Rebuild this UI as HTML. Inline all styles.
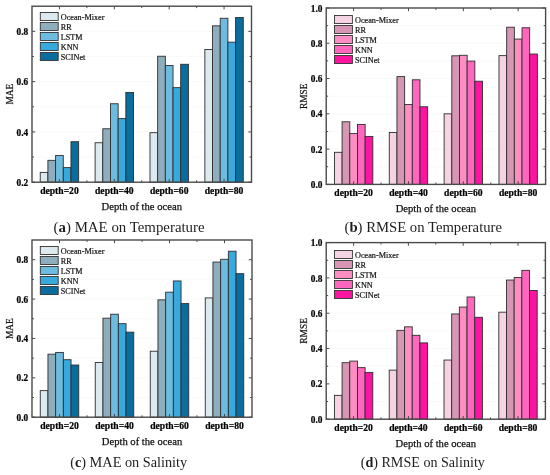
<!DOCTYPE html>
<html><head><meta charset="utf-8"><style>
html,body{margin:0;padding:0;background:#fff;}
svg{display:block;will-change:transform;}
text{font-family:"Liberation Serif",serif;fill:#000;}
.tl{font-size:9.3px;font-weight:bold;text-anchor:end;stroke:#000;stroke-width:0.22px;}
.xl{font-size:9.6px;font-weight:bold;text-anchor:middle;stroke:#000;stroke-width:0.22px;}
.lg{font-size:8.2px;fill:#111;stroke:#111;stroke-width:0.2px;}
.yl{font-size:9.4px;text-anchor:middle;fill:#111;stroke:#111;stroke-width:0.2px;}
.xa{font-size:11px;fill:#111;stroke:#111;stroke-width:0.25px;}
.cap{font-size:15px;fill:#1e1e1e;}
</style></head><body>
<svg width="550" height="475" viewBox="0 0 550 475">
<rect width="550" height="475" fill="#fff"/>
<line x1="32" y1="131.91" x2="251.5" y2="131.91" stroke="#f7f7f7" stroke-width="0.8"/>
<line x1="32" y1="81.63" x2="251.5" y2="81.63" stroke="#f7f7f7" stroke-width="0.8"/>
<line x1="32" y1="31.34" x2="251.5" y2="31.34" stroke="#f7f7f7" stroke-width="0.8"/>
<line x1="32" y1="157.06" x2="251.5" y2="157.06" stroke="#f7f7f7" stroke-width="0.8"/>
<line x1="32" y1="106.77" x2="251.5" y2="106.77" stroke="#f7f7f7" stroke-width="0.8"/>
<line x1="32" y1="56.49" x2="251.5" y2="56.49" stroke="#f7f7f7" stroke-width="0.8"/>
<rect x="40.23" y="172.39" width="7.68" height="9.81" fill="#dce9ef" stroke="#2e2e2e" stroke-width="0.9"/>
<rect x="47.91" y="160.33" width="7.68" height="21.87" fill="#8eaebe" stroke="#2e2e2e" stroke-width="0.9"/>
<rect x="55.60" y="155.55" width="7.68" height="26.65" fill="#6dbce0" stroke="#2e2e2e" stroke-width="0.9"/>
<rect x="63.28" y="167.62" width="7.68" height="14.58" fill="#38a9dc" stroke="#2e2e2e" stroke-width="0.9"/>
<rect x="70.96" y="141.72" width="7.68" height="40.48" fill="#0b6c9e" stroke="#2e2e2e" stroke-width="0.9"/>
<rect x="95.11" y="142.73" width="7.68" height="39.47" fill="#dce9ef" stroke="#2e2e2e" stroke-width="0.9"/>
<rect x="102.79" y="128.77" width="7.68" height="53.43" fill="#8eaebe" stroke="#2e2e2e" stroke-width="0.9"/>
<rect x="110.47" y="103.75" width="7.68" height="78.45" fill="#6dbce0" stroke="#2e2e2e" stroke-width="0.9"/>
<rect x="118.15" y="118.59" width="7.68" height="63.61" fill="#38a9dc" stroke="#2e2e2e" stroke-width="0.9"/>
<rect x="125.84" y="92.44" width="7.68" height="89.76" fill="#0b6c9e" stroke="#2e2e2e" stroke-width="0.9"/>
<rect x="149.98" y="132.67" width="7.68" height="49.53" fill="#dce9ef" stroke="#2e2e2e" stroke-width="0.9"/>
<rect x="157.66" y="56.23" width="7.68" height="125.97" fill="#8eaebe" stroke="#2e2e2e" stroke-width="0.9"/>
<rect x="165.35" y="65.54" width="7.68" height="116.66" fill="#6dbce0" stroke="#2e2e2e" stroke-width="0.9"/>
<rect x="173.03" y="87.66" width="7.68" height="94.54" fill="#38a9dc" stroke="#2e2e2e" stroke-width="0.9"/>
<rect x="180.71" y="64.28" width="7.68" height="117.92" fill="#0b6c9e" stroke="#2e2e2e" stroke-width="0.9"/>
<rect x="204.86" y="49.45" width="7.68" height="132.75" fill="#dce9ef" stroke="#2e2e2e" stroke-width="0.9"/>
<rect x="212.54" y="25.81" width="7.68" height="156.39" fill="#8eaebe" stroke="#2e2e2e" stroke-width="0.9"/>
<rect x="220.22" y="18.27" width="7.68" height="163.93" fill="#6dbce0" stroke="#2e2e2e" stroke-width="0.9"/>
<rect x="227.90" y="42.15" width="7.68" height="140.05" fill="#38a9dc" stroke="#2e2e2e" stroke-width="0.9"/>
<rect x="235.59" y="17.51" width="7.68" height="164.69" fill="#0b6c9e" stroke="#2e2e2e" stroke-width="0.9"/>
<rect x="32" y="6.2" width="219.50" height="176.00" fill="none" stroke="#4a4a4a" stroke-width="1.4"/>
<line x1="32" y1="182.20" x2="35.2" y2="182.20" stroke="#4a4a4a" stroke-width="1"/>
<line x1="251.5" y1="182.20" x2="248.3" y2="182.20" stroke="#4a4a4a" stroke-width="1"/>
<text x="28.2" y="185.80" class="tl">0.2</text>
<line x1="32" y1="131.91" x2="35.2" y2="131.91" stroke="#4a4a4a" stroke-width="1"/>
<line x1="251.5" y1="131.91" x2="248.3" y2="131.91" stroke="#4a4a4a" stroke-width="1"/>
<text x="28.2" y="135.51" class="tl">0.4</text>
<line x1="32" y1="81.63" x2="35.2" y2="81.63" stroke="#4a4a4a" stroke-width="1"/>
<line x1="251.5" y1="81.63" x2="248.3" y2="81.63" stroke="#4a4a4a" stroke-width="1"/>
<text x="28.2" y="85.23" class="tl">0.6</text>
<line x1="32" y1="31.34" x2="35.2" y2="31.34" stroke="#4a4a4a" stroke-width="1"/>
<line x1="251.5" y1="31.34" x2="248.3" y2="31.34" stroke="#4a4a4a" stroke-width="1"/>
<text x="28.2" y="34.94" class="tl">0.8</text>
<line x1="32" y1="157.06" x2="33.9" y2="157.06" stroke="#4a4a4a" stroke-width="1"/>
<line x1="251.5" y1="157.06" x2="249.6" y2="157.06" stroke="#4a4a4a" stroke-width="1"/>
<line x1="32" y1="106.77" x2="33.9" y2="106.77" stroke="#4a4a4a" stroke-width="1"/>
<line x1="251.5" y1="106.77" x2="249.6" y2="106.77" stroke="#4a4a4a" stroke-width="1"/>
<line x1="32" y1="56.49" x2="33.9" y2="56.49" stroke="#4a4a4a" stroke-width="1"/>
<line x1="251.5" y1="56.49" x2="249.6" y2="56.49" stroke="#4a4a4a" stroke-width="1"/>
<line x1="59.44" y1="182.2" x2="59.44" y2="179.0" stroke="#4a4a4a" stroke-width="1"/>
<line x1="59.44" y1="6.2" x2="59.44" y2="9.4" stroke="#4a4a4a" stroke-width="1"/>
<text x="59.44" y="193.70" class="xl">depth=20</text>
<line x1="114.31" y1="182.2" x2="114.31" y2="179.0" stroke="#4a4a4a" stroke-width="1"/>
<line x1="114.31" y1="6.2" x2="114.31" y2="9.4" stroke="#4a4a4a" stroke-width="1"/>
<text x="114.31" y="193.70" class="xl">depth=40</text>
<line x1="169.19" y1="182.2" x2="169.19" y2="179.0" stroke="#4a4a4a" stroke-width="1"/>
<line x1="169.19" y1="6.2" x2="169.19" y2="9.4" stroke="#4a4a4a" stroke-width="1"/>
<text x="169.19" y="193.70" class="xl">depth=60</text>
<line x1="224.06" y1="182.2" x2="224.06" y2="179.0" stroke="#4a4a4a" stroke-width="1"/>
<line x1="224.06" y1="6.2" x2="224.06" y2="9.4" stroke="#4a4a4a" stroke-width="1"/>
<text x="224.06" y="193.70" class="xl">depth=80</text>
<line x1="86.88" y1="182.2" x2="86.88" y2="180.29999999999998" stroke="#4a4a4a" stroke-width="1"/>
<line x1="86.88" y1="6.2" x2="86.88" y2="8.1" stroke="#4a4a4a" stroke-width="1"/>
<line x1="141.75" y1="182.2" x2="141.75" y2="180.29999999999998" stroke="#4a4a4a" stroke-width="1"/>
<line x1="141.75" y1="6.2" x2="141.75" y2="8.1" stroke="#4a4a4a" stroke-width="1"/>
<line x1="196.62" y1="182.2" x2="196.62" y2="180.29999999999998" stroke="#4a4a4a" stroke-width="1"/>
<line x1="196.62" y1="6.2" x2="196.62" y2="8.1" stroke="#4a4a4a" stroke-width="1"/>
<rect x="40.30" y="12.50" width="17.9" height="8" fill="#dce9ef" stroke="#333" stroke-width="0.9"/>
<text x="60.80" y="19.60" class="lg">Ocean-Mixer</text>
<rect x="40.30" y="22.50" width="17.9" height="8" fill="#8eaebe" stroke="#333" stroke-width="0.9"/>
<text x="60.80" y="29.60" class="lg">RR</text>
<rect x="40.30" y="32.50" width="17.9" height="8" fill="#6dbce0" stroke="#333" stroke-width="0.9"/>
<text x="60.80" y="39.60" class="lg">LSTM</text>
<rect x="40.30" y="42.50" width="17.9" height="8" fill="#38a9dc" stroke="#333" stroke-width="0.9"/>
<text x="60.80" y="49.60" class="lg">KNN</text>
<rect x="40.30" y="52.50" width="17.9" height="8" fill="#0b6c9e" stroke="#333" stroke-width="0.9"/>
<text x="60.80" y="59.60" class="lg">SCINet</text>
<text transform="translate(12.700000000000001,94.20) rotate(-90)" class="yl">MAE</text>
<text x="101.55" y="209.60" class="xa" textLength="80.4" lengthAdjust="spacingAndGlyphs">Depth of the ocean</text>
<text x="53.6" y="231.6" class="cap" textLength="151" lengthAdjust="spacingAndGlyphs">(<tspan font-weight="bold">a</tspan>) MAE on Temperature</text>
<line x1="326.2" y1="149.12" x2="545.6" y2="149.12" stroke="#f7f7f7" stroke-width="0.8"/>
<line x1="326.2" y1="113.84" x2="545.6" y2="113.84" stroke="#f7f7f7" stroke-width="0.8"/>
<line x1="326.2" y1="78.56" x2="545.6" y2="78.56" stroke="#f7f7f7" stroke-width="0.8"/>
<line x1="326.2" y1="43.28" x2="545.6" y2="43.28" stroke="#f7f7f7" stroke-width="0.8"/>
<line x1="326.2" y1="166.76" x2="545.6" y2="166.76" stroke="#f7f7f7" stroke-width="0.8"/>
<line x1="326.2" y1="131.48" x2="545.6" y2="131.48" stroke="#f7f7f7" stroke-width="0.8"/>
<line x1="326.2" y1="96.20" x2="545.6" y2="96.20" stroke="#f7f7f7" stroke-width="0.8"/>
<line x1="326.2" y1="60.92" x2="545.6" y2="60.92" stroke="#f7f7f7" stroke-width="0.8"/>
<line x1="326.2" y1="25.64" x2="545.6" y2="25.64" stroke="#f7f7f7" stroke-width="0.8"/>
<rect x="334.43" y="152.30" width="7.68" height="32.10" fill="#f6d3e3" stroke="#2e2e2e" stroke-width="0.9"/>
<rect x="342.11" y="121.78" width="7.68" height="62.62" fill="#d797b4" stroke="#2e2e2e" stroke-width="0.9"/>
<rect x="349.79" y="133.42" width="7.68" height="50.98" fill="#fd8ec3" stroke="#2e2e2e" stroke-width="0.9"/>
<rect x="357.46" y="124.42" width="7.68" height="59.98" fill="#ff66bd" stroke="#2e2e2e" stroke-width="0.9"/>
<rect x="365.14" y="136.42" width="7.68" height="47.98" fill="#fb14a0" stroke="#2e2e2e" stroke-width="0.9"/>
<rect x="389.28" y="132.54" width="7.68" height="51.86" fill="#f6d3e3" stroke="#2e2e2e" stroke-width="0.9"/>
<rect x="396.96" y="76.62" width="7.68" height="107.78" fill="#d797b4" stroke="#2e2e2e" stroke-width="0.9"/>
<rect x="404.64" y="104.49" width="7.68" height="79.91" fill="#fd8ec3" stroke="#2e2e2e" stroke-width="0.9"/>
<rect x="412.31" y="79.79" width="7.68" height="104.61" fill="#ff66bd" stroke="#2e2e2e" stroke-width="0.9"/>
<rect x="419.99" y="106.78" width="7.68" height="77.62" fill="#fb14a0" stroke="#2e2e2e" stroke-width="0.9"/>
<rect x="444.13" y="113.84" width="7.68" height="70.56" fill="#f6d3e3" stroke="#2e2e2e" stroke-width="0.9"/>
<rect x="451.81" y="55.80" width="7.68" height="128.60" fill="#d797b4" stroke="#2e2e2e" stroke-width="0.9"/>
<rect x="459.49" y="55.28" width="7.68" height="129.12" fill="#fd8ec3" stroke="#2e2e2e" stroke-width="0.9"/>
<rect x="467.16" y="61.10" width="7.68" height="123.30" fill="#ff66bd" stroke="#2e2e2e" stroke-width="0.9"/>
<rect x="474.84" y="81.21" width="7.68" height="103.19" fill="#fb14a0" stroke="#2e2e2e" stroke-width="0.9"/>
<rect x="498.98" y="55.63" width="7.68" height="128.77" fill="#f6d3e3" stroke="#2e2e2e" stroke-width="0.9"/>
<rect x="506.66" y="27.23" width="7.68" height="157.17" fill="#d797b4" stroke="#2e2e2e" stroke-width="0.9"/>
<rect x="514.34" y="39.05" width="7.68" height="145.35" fill="#fd8ec3" stroke="#2e2e2e" stroke-width="0.9"/>
<rect x="522.01" y="27.76" width="7.68" height="156.64" fill="#ff66bd" stroke="#2e2e2e" stroke-width="0.9"/>
<rect x="529.69" y="54.04" width="7.68" height="130.36" fill="#fb14a0" stroke="#2e2e2e" stroke-width="0.9"/>
<rect x="326.2" y="8.0" width="219.40" height="176.40" fill="none" stroke="#4a4a4a" stroke-width="1.4"/>
<line x1="326.2" y1="184.40" x2="329.4" y2="184.40" stroke="#4a4a4a" stroke-width="1"/>
<line x1="545.6" y1="184.40" x2="542.4" y2="184.40" stroke="#4a4a4a" stroke-width="1"/>
<text x="322.4" y="188.00" class="tl">0.0</text>
<line x1="326.2" y1="149.12" x2="329.4" y2="149.12" stroke="#4a4a4a" stroke-width="1"/>
<line x1="545.6" y1="149.12" x2="542.4" y2="149.12" stroke="#4a4a4a" stroke-width="1"/>
<text x="322.4" y="152.72" class="tl">0.2</text>
<line x1="326.2" y1="113.84" x2="329.4" y2="113.84" stroke="#4a4a4a" stroke-width="1"/>
<line x1="545.6" y1="113.84" x2="542.4" y2="113.84" stroke="#4a4a4a" stroke-width="1"/>
<text x="322.4" y="117.44" class="tl">0.4</text>
<line x1="326.2" y1="78.56" x2="329.4" y2="78.56" stroke="#4a4a4a" stroke-width="1"/>
<line x1="545.6" y1="78.56" x2="542.4" y2="78.56" stroke="#4a4a4a" stroke-width="1"/>
<text x="322.4" y="82.16" class="tl">0.6</text>
<line x1="326.2" y1="43.28" x2="329.4" y2="43.28" stroke="#4a4a4a" stroke-width="1"/>
<line x1="545.6" y1="43.28" x2="542.4" y2="43.28" stroke="#4a4a4a" stroke-width="1"/>
<text x="322.4" y="46.88" class="tl">0.8</text>
<line x1="326.2" y1="8.00" x2="329.4" y2="8.00" stroke="#4a4a4a" stroke-width="1"/>
<line x1="545.6" y1="8.00" x2="542.4" y2="8.00" stroke="#4a4a4a" stroke-width="1"/>
<text x="322.4" y="11.60" class="tl">1.0</text>
<line x1="326.2" y1="166.76" x2="328.09999999999997" y2="166.76" stroke="#4a4a4a" stroke-width="1"/>
<line x1="545.6" y1="166.76" x2="543.7" y2="166.76" stroke="#4a4a4a" stroke-width="1"/>
<line x1="326.2" y1="131.48" x2="328.09999999999997" y2="131.48" stroke="#4a4a4a" stroke-width="1"/>
<line x1="545.6" y1="131.48" x2="543.7" y2="131.48" stroke="#4a4a4a" stroke-width="1"/>
<line x1="326.2" y1="96.20" x2="328.09999999999997" y2="96.20" stroke="#4a4a4a" stroke-width="1"/>
<line x1="545.6" y1="96.20" x2="543.7" y2="96.20" stroke="#4a4a4a" stroke-width="1"/>
<line x1="326.2" y1="60.92" x2="328.09999999999997" y2="60.92" stroke="#4a4a4a" stroke-width="1"/>
<line x1="545.6" y1="60.92" x2="543.7" y2="60.92" stroke="#4a4a4a" stroke-width="1"/>
<line x1="326.2" y1="25.64" x2="328.09999999999997" y2="25.64" stroke="#4a4a4a" stroke-width="1"/>
<line x1="545.6" y1="25.64" x2="543.7" y2="25.64" stroke="#4a4a4a" stroke-width="1"/>
<line x1="353.62" y1="184.4" x2="353.62" y2="181.20000000000002" stroke="#4a4a4a" stroke-width="1"/>
<line x1="353.62" y1="8.0" x2="353.62" y2="11.2" stroke="#4a4a4a" stroke-width="1"/>
<text x="353.62" y="195.90" class="xl">depth=20</text>
<line x1="408.48" y1="184.4" x2="408.48" y2="181.20000000000002" stroke="#4a4a4a" stroke-width="1"/>
<line x1="408.48" y1="8.0" x2="408.48" y2="11.2" stroke="#4a4a4a" stroke-width="1"/>
<text x="408.48" y="195.90" class="xl">depth=40</text>
<line x1="463.33" y1="184.4" x2="463.33" y2="181.20000000000002" stroke="#4a4a4a" stroke-width="1"/>
<line x1="463.33" y1="8.0" x2="463.33" y2="11.2" stroke="#4a4a4a" stroke-width="1"/>
<text x="463.33" y="195.90" class="xl">depth=60</text>
<line x1="518.17" y1="184.4" x2="518.17" y2="181.20000000000002" stroke="#4a4a4a" stroke-width="1"/>
<line x1="518.17" y1="8.0" x2="518.17" y2="11.2" stroke="#4a4a4a" stroke-width="1"/>
<text x="518.17" y="195.90" class="xl">depth=80</text>
<line x1="381.05" y1="184.4" x2="381.05" y2="182.5" stroke="#4a4a4a" stroke-width="1"/>
<line x1="381.05" y1="8.0" x2="381.05" y2="9.9" stroke="#4a4a4a" stroke-width="1"/>
<line x1="435.90" y1="184.4" x2="435.90" y2="182.5" stroke="#4a4a4a" stroke-width="1"/>
<line x1="435.90" y1="8.0" x2="435.90" y2="9.9" stroke="#4a4a4a" stroke-width="1"/>
<line x1="490.75" y1="184.4" x2="490.75" y2="182.5" stroke="#4a4a4a" stroke-width="1"/>
<line x1="490.75" y1="8.0" x2="490.75" y2="9.9" stroke="#4a4a4a" stroke-width="1"/>
<rect x="334.50" y="15.50" width="17.9" height="8" fill="#f6d3e3" stroke="#333" stroke-width="0.9"/>
<text x="355.00" y="22.60" class="lg">Ocean-Mixer</text>
<rect x="334.50" y="25.50" width="17.9" height="8" fill="#d797b4" stroke="#333" stroke-width="0.9"/>
<text x="355.00" y="32.60" class="lg">RR</text>
<rect x="334.50" y="35.50" width="17.9" height="8" fill="#fd8ec3" stroke="#333" stroke-width="0.9"/>
<text x="355.00" y="42.60" class="lg">LSTM</text>
<rect x="334.50" y="45.50" width="17.9" height="8" fill="#ff66bd" stroke="#333" stroke-width="0.9"/>
<text x="355.00" y="52.60" class="lg">KNN</text>
<rect x="334.50" y="55.50" width="17.9" height="8" fill="#fb14a0" stroke="#333" stroke-width="0.9"/>
<text x="355.00" y="62.60" class="lg">SCINet</text>
<text transform="translate(306.59999999999997,96.20) rotate(-90)" class="yl">RMSE</text>
<text x="395.70" y="211.80" class="xa" textLength="80.4" lengthAdjust="spacingAndGlyphs">Depth of the ocean</text>
<text x="344.5" y="231.6" class="cap" textLength="157.5" lengthAdjust="spacingAndGlyphs">(<tspan font-weight="bold">b</tspan>) RMSE on Temperature</text>
<line x1="32" y1="377.82" x2="252" y2="377.82" stroke="#f7f7f7" stroke-width="0.8"/>
<line x1="32" y1="338.44" x2="252" y2="338.44" stroke="#f7f7f7" stroke-width="0.8"/>
<line x1="32" y1="299.07" x2="252" y2="299.07" stroke="#f7f7f7" stroke-width="0.8"/>
<line x1="32" y1="259.69" x2="252" y2="259.69" stroke="#f7f7f7" stroke-width="0.8"/>
<line x1="32" y1="397.51" x2="252" y2="397.51" stroke="#f7f7f7" stroke-width="0.8"/>
<line x1="32" y1="358.13" x2="252" y2="358.13" stroke="#f7f7f7" stroke-width="0.8"/>
<line x1="32" y1="318.76" x2="252" y2="318.76" stroke="#f7f7f7" stroke-width="0.8"/>
<line x1="32" y1="279.38" x2="252" y2="279.38" stroke="#f7f7f7" stroke-width="0.8"/>
<rect x="40.25" y="390.62" width="7.70" height="26.58" fill="#dce9ef" stroke="#2e2e2e" stroke-width="0.9"/>
<rect x="47.95" y="354.20" width="7.70" height="63.00" fill="#8eaebe" stroke="#2e2e2e" stroke-width="0.9"/>
<rect x="55.65" y="352.42" width="7.70" height="64.78" fill="#6dbce0" stroke="#2e2e2e" stroke-width="0.9"/>
<rect x="63.35" y="359.71" width="7.70" height="57.49" fill="#38a9dc" stroke="#2e2e2e" stroke-width="0.9"/>
<rect x="71.05" y="365.02" width="7.70" height="52.18" fill="#0b6c9e" stroke="#2e2e2e" stroke-width="0.9"/>
<rect x="95.25" y="362.46" width="7.70" height="54.74" fill="#dce9ef" stroke="#2e2e2e" stroke-width="0.9"/>
<rect x="102.95" y="318.16" width="7.70" height="99.04" fill="#8eaebe" stroke="#2e2e2e" stroke-width="0.9"/>
<rect x="110.65" y="314.23" width="7.70" height="102.97" fill="#6dbce0" stroke="#2e2e2e" stroke-width="0.9"/>
<rect x="118.35" y="323.68" width="7.70" height="93.52" fill="#38a9dc" stroke="#2e2e2e" stroke-width="0.9"/>
<rect x="126.05" y="332.14" width="7.70" height="85.06" fill="#0b6c9e" stroke="#2e2e2e" stroke-width="0.9"/>
<rect x="150.25" y="351.24" width="7.70" height="65.96" fill="#dce9ef" stroke="#2e2e2e" stroke-width="0.9"/>
<rect x="157.95" y="299.85" width="7.70" height="117.35" fill="#8eaebe" stroke="#2e2e2e" stroke-width="0.9"/>
<rect x="165.65" y="292.18" width="7.70" height="125.02" fill="#6dbce0" stroke="#2e2e2e" stroke-width="0.9"/>
<rect x="173.35" y="280.95" width="7.70" height="136.25" fill="#38a9dc" stroke="#2e2e2e" stroke-width="0.9"/>
<rect x="181.05" y="303.60" width="7.70" height="113.60" fill="#0b6c9e" stroke="#2e2e2e" stroke-width="0.9"/>
<rect x="205.25" y="297.89" width="7.70" height="119.31" fill="#dce9ef" stroke="#2e2e2e" stroke-width="0.9"/>
<rect x="212.95" y="262.05" width="7.70" height="155.15" fill="#8eaebe" stroke="#2e2e2e" stroke-width="0.9"/>
<rect x="220.65" y="259.30" width="7.70" height="157.90" fill="#6dbce0" stroke="#2e2e2e" stroke-width="0.9"/>
<rect x="228.35" y="251.22" width="7.70" height="165.98" fill="#38a9dc" stroke="#2e2e2e" stroke-width="0.9"/>
<rect x="236.05" y="273.67" width="7.70" height="143.53" fill="#0b6c9e" stroke="#2e2e2e" stroke-width="0.9"/>
<rect x="32" y="240.0" width="220.00" height="177.20" fill="none" stroke="#4a4a4a" stroke-width="1.4"/>
<line x1="32" y1="417.20" x2="35.2" y2="417.20" stroke="#4a4a4a" stroke-width="1"/>
<line x1="252" y1="417.20" x2="248.8" y2="417.20" stroke="#4a4a4a" stroke-width="1"/>
<text x="28.2" y="420.80" class="tl">0.0</text>
<line x1="32" y1="377.82" x2="35.2" y2="377.82" stroke="#4a4a4a" stroke-width="1"/>
<line x1="252" y1="377.82" x2="248.8" y2="377.82" stroke="#4a4a4a" stroke-width="1"/>
<text x="28.2" y="381.42" class="tl">0.2</text>
<line x1="32" y1="338.44" x2="35.2" y2="338.44" stroke="#4a4a4a" stroke-width="1"/>
<line x1="252" y1="338.44" x2="248.8" y2="338.44" stroke="#4a4a4a" stroke-width="1"/>
<text x="28.2" y="342.04" class="tl">0.4</text>
<line x1="32" y1="299.07" x2="35.2" y2="299.07" stroke="#4a4a4a" stroke-width="1"/>
<line x1="252" y1="299.07" x2="248.8" y2="299.07" stroke="#4a4a4a" stroke-width="1"/>
<text x="28.2" y="302.67" class="tl">0.6</text>
<line x1="32" y1="259.69" x2="35.2" y2="259.69" stroke="#4a4a4a" stroke-width="1"/>
<line x1="252" y1="259.69" x2="248.8" y2="259.69" stroke="#4a4a4a" stroke-width="1"/>
<text x="28.2" y="263.29" class="tl">0.8</text>
<line x1="32" y1="397.51" x2="33.9" y2="397.51" stroke="#4a4a4a" stroke-width="1"/>
<line x1="252" y1="397.51" x2="250.1" y2="397.51" stroke="#4a4a4a" stroke-width="1"/>
<line x1="32" y1="358.13" x2="33.9" y2="358.13" stroke="#4a4a4a" stroke-width="1"/>
<line x1="252" y1="358.13" x2="250.1" y2="358.13" stroke="#4a4a4a" stroke-width="1"/>
<line x1="32" y1="318.76" x2="33.9" y2="318.76" stroke="#4a4a4a" stroke-width="1"/>
<line x1="252" y1="318.76" x2="250.1" y2="318.76" stroke="#4a4a4a" stroke-width="1"/>
<line x1="32" y1="279.38" x2="33.9" y2="279.38" stroke="#4a4a4a" stroke-width="1"/>
<line x1="252" y1="279.38" x2="250.1" y2="279.38" stroke="#4a4a4a" stroke-width="1"/>
<line x1="59.50" y1="417.2" x2="59.50" y2="414.0" stroke="#4a4a4a" stroke-width="1"/>
<line x1="59.50" y1="240.0" x2="59.50" y2="243.2" stroke="#4a4a4a" stroke-width="1"/>
<text x="59.50" y="428.70" class="xl">depth=20</text>
<line x1="114.50" y1="417.2" x2="114.50" y2="414.0" stroke="#4a4a4a" stroke-width="1"/>
<line x1="114.50" y1="240.0" x2="114.50" y2="243.2" stroke="#4a4a4a" stroke-width="1"/>
<text x="114.50" y="428.70" class="xl">depth=40</text>
<line x1="169.50" y1="417.2" x2="169.50" y2="414.0" stroke="#4a4a4a" stroke-width="1"/>
<line x1="169.50" y1="240.0" x2="169.50" y2="243.2" stroke="#4a4a4a" stroke-width="1"/>
<text x="169.50" y="428.70" class="xl">depth=60</text>
<line x1="224.50" y1="417.2" x2="224.50" y2="414.0" stroke="#4a4a4a" stroke-width="1"/>
<line x1="224.50" y1="240.0" x2="224.50" y2="243.2" stroke="#4a4a4a" stroke-width="1"/>
<text x="224.50" y="428.70" class="xl">depth=80</text>
<line x1="87.00" y1="417.2" x2="87.00" y2="415.3" stroke="#4a4a4a" stroke-width="1"/>
<line x1="87.00" y1="240.0" x2="87.00" y2="241.9" stroke="#4a4a4a" stroke-width="1"/>
<line x1="142.00" y1="417.2" x2="142.00" y2="415.3" stroke="#4a4a4a" stroke-width="1"/>
<line x1="142.00" y1="240.0" x2="142.00" y2="241.9" stroke="#4a4a4a" stroke-width="1"/>
<line x1="197.00" y1="417.2" x2="197.00" y2="415.3" stroke="#4a4a4a" stroke-width="1"/>
<line x1="197.00" y1="240.0" x2="197.00" y2="241.9" stroke="#4a4a4a" stroke-width="1"/>
<rect x="40.30" y="246.50" width="17.9" height="8" fill="#dce9ef" stroke="#333" stroke-width="0.9"/>
<text x="60.80" y="253.60" class="lg">Ocean-Mixer</text>
<rect x="40.30" y="256.50" width="17.9" height="8" fill="#8eaebe" stroke="#333" stroke-width="0.9"/>
<text x="60.80" y="263.60" class="lg">RR</text>
<rect x="40.30" y="266.50" width="17.9" height="8" fill="#6dbce0" stroke="#333" stroke-width="0.9"/>
<text x="60.80" y="273.60" class="lg">LSTM</text>
<rect x="40.30" y="276.50" width="17.9" height="8" fill="#38a9dc" stroke="#333" stroke-width="0.9"/>
<text x="60.80" y="283.60" class="lg">KNN</text>
<rect x="40.30" y="286.50" width="17.9" height="8" fill="#0b6c9e" stroke="#333" stroke-width="0.9"/>
<text x="60.80" y="293.60" class="lg">SCINet</text>
<text transform="translate(12.700000000000001,328.60) rotate(-90)" class="yl">MAE</text>
<text x="101.80" y="444.60" class="xa" textLength="80.4" lengthAdjust="spacingAndGlyphs">Depth of the ocean</text>
<text x="70.2" y="466.7" class="cap" textLength="117" lengthAdjust="spacingAndGlyphs">(<tspan font-weight="bold">c</tspan>) MAE on Salinity</text>
<line x1="326.2" y1="383.88" x2="545.4" y2="383.88" stroke="#f7f7f7" stroke-width="0.8"/>
<line x1="326.2" y1="348.56" x2="545.4" y2="348.56" stroke="#f7f7f7" stroke-width="0.8"/>
<line x1="326.2" y1="313.24" x2="545.4" y2="313.24" stroke="#f7f7f7" stroke-width="0.8"/>
<line x1="326.2" y1="277.92" x2="545.4" y2="277.92" stroke="#f7f7f7" stroke-width="0.8"/>
<line x1="326.2" y1="401.54" x2="545.4" y2="401.54" stroke="#f7f7f7" stroke-width="0.8"/>
<line x1="326.2" y1="366.22" x2="545.4" y2="366.22" stroke="#f7f7f7" stroke-width="0.8"/>
<line x1="326.2" y1="330.90" x2="545.4" y2="330.90" stroke="#f7f7f7" stroke-width="0.8"/>
<line x1="326.2" y1="295.58" x2="545.4" y2="295.58" stroke="#f7f7f7" stroke-width="0.8"/>
<line x1="326.2" y1="260.26" x2="545.4" y2="260.26" stroke="#f7f7f7" stroke-width="0.8"/>
<rect x="334.42" y="395.36" width="7.67" height="23.84" fill="#f6d3e3" stroke="#2e2e2e" stroke-width="0.9"/>
<rect x="342.09" y="362.69" width="7.67" height="56.51" fill="#d797b4" stroke="#2e2e2e" stroke-width="0.9"/>
<rect x="349.76" y="361.10" width="7.67" height="58.10" fill="#fd8ec3" stroke="#2e2e2e" stroke-width="0.9"/>
<rect x="357.44" y="367.63" width="7.67" height="51.57" fill="#ff66bd" stroke="#2e2e2e" stroke-width="0.9"/>
<rect x="365.11" y="372.40" width="7.67" height="46.80" fill="#fb14a0" stroke="#2e2e2e" stroke-width="0.9"/>
<rect x="389.22" y="370.11" width="7.67" height="49.09" fill="#f6d3e3" stroke="#2e2e2e" stroke-width="0.9"/>
<rect x="396.89" y="330.37" width="7.67" height="88.83" fill="#d797b4" stroke="#2e2e2e" stroke-width="0.9"/>
<rect x="404.56" y="326.84" width="7.67" height="92.36" fill="#fd8ec3" stroke="#2e2e2e" stroke-width="0.9"/>
<rect x="412.24" y="335.31" width="7.67" height="83.88" fill="#ff66bd" stroke="#2e2e2e" stroke-width="0.9"/>
<rect x="419.91" y="342.91" width="7.67" height="76.29" fill="#fb14a0" stroke="#2e2e2e" stroke-width="0.9"/>
<rect x="444.02" y="360.04" width="7.67" height="59.16" fill="#f6d3e3" stroke="#2e2e2e" stroke-width="0.9"/>
<rect x="451.69" y="313.95" width="7.67" height="105.25" fill="#d797b4" stroke="#2e2e2e" stroke-width="0.9"/>
<rect x="459.36" y="307.06" width="7.67" height="112.14" fill="#fd8ec3" stroke="#2e2e2e" stroke-width="0.9"/>
<rect x="467.04" y="296.99" width="7.67" height="122.21" fill="#ff66bd" stroke="#2e2e2e" stroke-width="0.9"/>
<rect x="474.71" y="317.30" width="7.67" height="101.90" fill="#fb14a0" stroke="#2e2e2e" stroke-width="0.9"/>
<rect x="498.82" y="312.18" width="7.67" height="107.02" fill="#f6d3e3" stroke="#2e2e2e" stroke-width="0.9"/>
<rect x="506.49" y="280.04" width="7.67" height="139.16" fill="#d797b4" stroke="#2e2e2e" stroke-width="0.9"/>
<rect x="514.16" y="277.57" width="7.67" height="141.63" fill="#fd8ec3" stroke="#2e2e2e" stroke-width="0.9"/>
<rect x="521.84" y="270.33" width="7.67" height="148.87" fill="#ff66bd" stroke="#2e2e2e" stroke-width="0.9"/>
<rect x="529.51" y="290.46" width="7.67" height="128.74" fill="#fb14a0" stroke="#2e2e2e" stroke-width="0.9"/>
<rect x="326.2" y="242.6" width="219.20" height="176.60" fill="none" stroke="#4a4a4a" stroke-width="1.4"/>
<line x1="326.2" y1="419.20" x2="329.4" y2="419.20" stroke="#4a4a4a" stroke-width="1"/>
<line x1="545.4" y1="419.20" x2="542.1999999999999" y2="419.20" stroke="#4a4a4a" stroke-width="1"/>
<text x="322.4" y="422.80" class="tl">0.0</text>
<line x1="326.2" y1="383.88" x2="329.4" y2="383.88" stroke="#4a4a4a" stroke-width="1"/>
<line x1="545.4" y1="383.88" x2="542.1999999999999" y2="383.88" stroke="#4a4a4a" stroke-width="1"/>
<text x="322.4" y="387.48" class="tl">0.2</text>
<line x1="326.2" y1="348.56" x2="329.4" y2="348.56" stroke="#4a4a4a" stroke-width="1"/>
<line x1="545.4" y1="348.56" x2="542.1999999999999" y2="348.56" stroke="#4a4a4a" stroke-width="1"/>
<text x="322.4" y="352.16" class="tl">0.4</text>
<line x1="326.2" y1="313.24" x2="329.4" y2="313.24" stroke="#4a4a4a" stroke-width="1"/>
<line x1="545.4" y1="313.24" x2="542.1999999999999" y2="313.24" stroke="#4a4a4a" stroke-width="1"/>
<text x="322.4" y="316.84" class="tl">0.6</text>
<line x1="326.2" y1="277.92" x2="329.4" y2="277.92" stroke="#4a4a4a" stroke-width="1"/>
<line x1="545.4" y1="277.92" x2="542.1999999999999" y2="277.92" stroke="#4a4a4a" stroke-width="1"/>
<text x="322.4" y="281.52" class="tl">0.8</text>
<line x1="326.2" y1="242.60" x2="329.4" y2="242.60" stroke="#4a4a4a" stroke-width="1"/>
<line x1="545.4" y1="242.60" x2="542.1999999999999" y2="242.60" stroke="#4a4a4a" stroke-width="1"/>
<text x="322.4" y="246.20" class="tl">1.0</text>
<line x1="326.2" y1="401.54" x2="328.09999999999997" y2="401.54" stroke="#4a4a4a" stroke-width="1"/>
<line x1="545.4" y1="401.54" x2="543.5" y2="401.54" stroke="#4a4a4a" stroke-width="1"/>
<line x1="326.2" y1="366.22" x2="328.09999999999997" y2="366.22" stroke="#4a4a4a" stroke-width="1"/>
<line x1="545.4" y1="366.22" x2="543.5" y2="366.22" stroke="#4a4a4a" stroke-width="1"/>
<line x1="326.2" y1="330.90" x2="328.09999999999997" y2="330.90" stroke="#4a4a4a" stroke-width="1"/>
<line x1="545.4" y1="330.90" x2="543.5" y2="330.90" stroke="#4a4a4a" stroke-width="1"/>
<line x1="326.2" y1="295.58" x2="328.09999999999997" y2="295.58" stroke="#4a4a4a" stroke-width="1"/>
<line x1="545.4" y1="295.58" x2="543.5" y2="295.58" stroke="#4a4a4a" stroke-width="1"/>
<line x1="326.2" y1="260.26" x2="328.09999999999997" y2="260.26" stroke="#4a4a4a" stroke-width="1"/>
<line x1="545.4" y1="260.26" x2="543.5" y2="260.26" stroke="#4a4a4a" stroke-width="1"/>
<line x1="353.60" y1="419.2" x2="353.60" y2="416.0" stroke="#4a4a4a" stroke-width="1"/>
<line x1="353.60" y1="242.6" x2="353.60" y2="245.79999999999998" stroke="#4a4a4a" stroke-width="1"/>
<text x="353.60" y="430.70" class="xl">depth=20</text>
<line x1="408.40" y1="419.2" x2="408.40" y2="416.0" stroke="#4a4a4a" stroke-width="1"/>
<line x1="408.40" y1="242.6" x2="408.40" y2="245.79999999999998" stroke="#4a4a4a" stroke-width="1"/>
<text x="408.40" y="430.70" class="xl">depth=40</text>
<line x1="463.20" y1="419.2" x2="463.20" y2="416.0" stroke="#4a4a4a" stroke-width="1"/>
<line x1="463.20" y1="242.6" x2="463.20" y2="245.79999999999998" stroke="#4a4a4a" stroke-width="1"/>
<text x="463.20" y="430.70" class="xl">depth=60</text>
<line x1="518.00" y1="419.2" x2="518.00" y2="416.0" stroke="#4a4a4a" stroke-width="1"/>
<line x1="518.00" y1="242.6" x2="518.00" y2="245.79999999999998" stroke="#4a4a4a" stroke-width="1"/>
<text x="518.00" y="430.70" class="xl">depth=80</text>
<line x1="381.00" y1="419.2" x2="381.00" y2="417.3" stroke="#4a4a4a" stroke-width="1"/>
<line x1="381.00" y1="242.6" x2="381.00" y2="244.5" stroke="#4a4a4a" stroke-width="1"/>
<line x1="435.80" y1="419.2" x2="435.80" y2="417.3" stroke="#4a4a4a" stroke-width="1"/>
<line x1="435.80" y1="242.6" x2="435.80" y2="244.5" stroke="#4a4a4a" stroke-width="1"/>
<line x1="490.60" y1="419.2" x2="490.60" y2="417.3" stroke="#4a4a4a" stroke-width="1"/>
<line x1="490.60" y1="242.6" x2="490.60" y2="244.5" stroke="#4a4a4a" stroke-width="1"/>
<rect x="334.50" y="250.50" width="17.9" height="8" fill="#f6d3e3" stroke="#333" stroke-width="0.9"/>
<text x="355.00" y="257.60" class="lg">Ocean-Mixer</text>
<rect x="334.50" y="260.50" width="17.9" height="8" fill="#d797b4" stroke="#333" stroke-width="0.9"/>
<text x="355.00" y="267.60" class="lg">RR</text>
<rect x="334.50" y="270.50" width="17.9" height="8" fill="#fd8ec3" stroke="#333" stroke-width="0.9"/>
<text x="355.00" y="277.60" class="lg">LSTM</text>
<rect x="334.50" y="280.50" width="17.9" height="8" fill="#ff66bd" stroke="#333" stroke-width="0.9"/>
<text x="355.00" y="287.60" class="lg">KNN</text>
<rect x="334.50" y="290.50" width="17.9" height="8" fill="#fb14a0" stroke="#333" stroke-width="0.9"/>
<text x="355.00" y="297.60" class="lg">SCINet</text>
<text transform="translate(306.59999999999997,330.90) rotate(-90)" class="yl">RMSE</text>
<text x="395.60" y="446.60" class="xa" textLength="80.4" lengthAdjust="spacingAndGlyphs">Depth of the ocean</text>
<text x="360.7" y="466.6" class="cap" textLength="124.2" lengthAdjust="spacingAndGlyphs">(<tspan font-weight="bold">d</tspan>) RMSE on Salinity</text>
</svg>
</body></html>
